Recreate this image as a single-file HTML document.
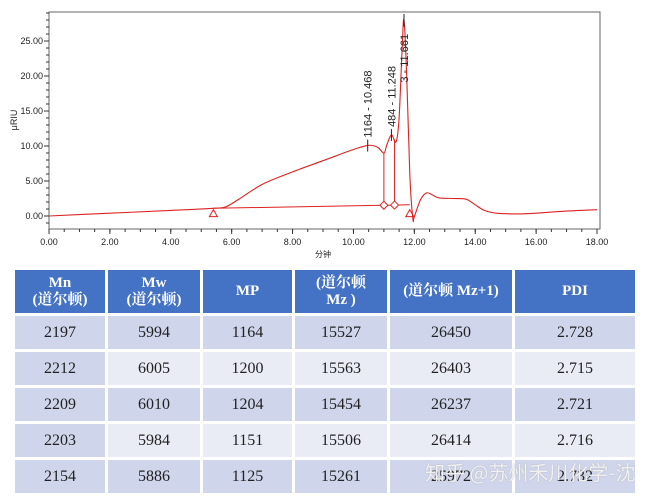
<!DOCTYPE html>
<html><head><meta charset="utf-8"><style>
body{margin:0;background:#fff;width:646px;height:501px;overflow:hidden;font-family:"Liberation Sans",sans-serif}
svg{position:absolute;left:0;top:0}
table{position:absolute;left:12px;top:267px;border-collapse:separate;border-spacing:3px 3px;font-family:"Liberation Serif","Noto Serif CJK SC",serif;table-layout:fixed}
td,th{text-align:center;font-size:16px;color:#222;padding:0}
th{background:#4472c4;color:#fff;font-weight:bold;height:43px;font-size:15px;line-height:17px}
td{height:33px}
tr.o td{background:#cfd5ea}
tr.e td{background:#e9ebf5}
tr.e td:first-child{background:#cfd5ea}
</style></head><body>
<svg id="chart" width="646" height="262"></svg>
<table>
<tr><th style="width:90px">Mn<br>(道尔顿)</th><th style="width:92px">Mw<br>(道尔顿)</th><th style="width:89px">MP</th><th style="width:92px">(道尔顿<br>Mz )</th><th style="width:122px">(道尔顿 Mz+1)</th><th style="width:120px">PDI</th></tr>
<tr class="o"><td>2197</td><td>5994</td><td>1164</td><td>15527</td><td>26450</td><td>2.728</td></tr>
<tr class="e"><td>2212</td><td>6005</td><td>1200</td><td>15563</td><td>26403</td><td>2.715</td></tr>
<tr class="o"><td>2209</td><td>6010</td><td>1204</td><td>15454</td><td>26237</td><td>2.721</td></tr>
<tr class="e"><td>2203</td><td>5984</td><td>1151</td><td>15506</td><td>26414</td><td>2.716</td></tr>
<tr class="o"><td>2154</td><td>5886</td><td>1125</td><td>15261</td><td>25972</td><td>2.732</td></tr>
</table>
<div style="position:absolute;left:425px;top:457px;font:20px 'Noto Sans CJK SC',sans-serif;color:rgba(255,255,255,0.85);text-shadow:0 0 1px #999">知乎 @苏州禾川化学-沈</div>
<script>
const times=[0,2,4,5.4,5.8,6.2,7,8,9,10,10.5,10.8,11.0,11.1,11.25,11.4,11.5,11.6,11.66,11.75,11.85,11.95,12.0,12.2,12.4,12.6,12.8,13.3,13.7,14.0,14.3,14.7,15.5,16,17,18];
const signal=[0,0.4,0.8,1.1,1.3,2.3,4.5,6.3,7.9,9.5,10.1,9.8,9.0,10.2,11.6,10.6,14,24,28,20,6,-0.3,-0.1,2.3,3.3,3.0,2.6,2.5,2.4,1.6,0.8,0.4,0.3,0.4,0.7,0.9];
const xTicks=[0,2,4,6,8,10,12,14,16,18];
const yTicks=[0,5,10,15,20,25];
const peakTimes=[10.468,11.248,11.661];
const peakLabels=["1164 - 10.468","484 - 11.248","3 - 11.661"];
const dropTimes=[11.0,11.35];
const baseStart=[5.4,1.1], baseEnd=[11.85,1.6];
const NS="http://www.w3.org/2000/svg",svg=document.getElementById('chart');
const X=t=>49+t*(597-49)/18, Y=v=>216-v*7;
function mk(tag,a){const e=document.createElementNS(NS,tag);for(const k in a)e.setAttribute(k,a[k]);svg.appendChild(e);return e;}
function interp(t){for(let i=1;i<times.length;i++)if(times[i]>=t){const f=(t-times[i-1])/(times[i]-times[i-1]);return signal[i-1]+f*(signal[i]-signal[i-1]);}return 0;}
let fr=mk('rect',{x:49,y:12,width:551,height:217,fill:'none',stroke:'#666','stroke-width':1});

xTicks.forEach(t=>{mk('line',{x1:X(t),x2:X(t),y1:229,y2:234,stroke:'#333'});
 const l=mk('text',{x:X(t),y:245,'font-size':9,'text-anchor':'middle',fill:'#222'});l.textContent=t.toFixed(2);
 });
for(let t=0;t<=18;t+=0.5)mk('line',{x1:X(t),x2:X(t),y1:229,y2:232,stroke:'#333'});
yTicks.forEach(v=>{mk('line',{x1:44,x2:49,y1:Y(v),y2:Y(v),stroke:'#333'});
 const l=mk('text',{x:43,y:Y(v)+3,'font-size':9,'text-anchor':'end',fill:'#222'});l.textContent=v.toFixed(2);
 });
for(let v=-1;v<=29;v+=1)mk('line',{x1:46,x2:49,y1:Y(v),y2:Y(v),stroke:'#333'});
let yt=mk('text',{x:17,y:120,'font-size':9,'text-anchor':'middle',transform:'rotate(-90 17 120)',fill:'#222'});yt.textContent='μRIU';

let xt=mk('text',{x:323,y:257,'font-size':8,'text-anchor':'middle',fill:'#222','font-family':'Noto Sans CJK SC,sans-serif'});xt.textContent='分钟';

let bl=mk('line',{x1:X(baseStart[0]),y1:Y(baseStart[1]),x2:X(baseEnd[0]),y2:Y(baseEnd[1]),stroke:'#d22','stroke-width':1});

dropTimes.forEach(t=>{const b=baseStart[1]+(t-baseStart[0])/(baseEnd[0]-baseStart[0])*(baseEnd[1]-baseStart[1]);
 const d=mk('line',{x1:X(t),x2:X(t),y1:Y(interp(t)),y2:Y(b),stroke:'#d22'});
 const m=mk('polygon',{points:`${X(t)},${Y(b)-4} ${X(t)+4},${Y(b)} ${X(t)},${Y(b)+4} ${X(t)-4},${Y(b)}`,fill:'#fff',stroke:'#d22'});
 });
[baseStart,baseEnd].forEach(p=>{const x=X(p[0]),y=Y(0.2);const m=mk('polygon',{points:`${x},${y-5} ${x+4},${y+2} ${x-4},${y+2}`,fill:'#fff',stroke:'#d22'});
 });
const P=times.map((t,i)=>[X(t),Y(signal[i])]);
let d='M'+P[0][0]+','+P[0][1];
for(let i=0;i<P.length-1;i++){const p0=P[Math.max(0,i-1)],p1=P[i],p2=P[i+1],p3=P[Math.min(P.length-1,i+2)];
 const c1=[p1[0]+(p2[0]-p0[0])/6,p1[1]+(p2[1]-p0[1])/6],c2=[p2[0]-(p3[0]-p1[0])/6,p2[1]-(p3[1]-p1[1])/6];
 d+=`C${c1[0].toFixed(1)},${c1[1].toFixed(1)} ${c2[0].toFixed(1)},${c2[1].toFixed(1)} ${p2[0].toFixed(1)},${p2[1].toFixed(1)}`;}
let c=mk('path',{d:d,fill:'none',stroke:'#d22','stroke-width':1.1,'stroke-linejoin':'round'});

peakTimes.forEach((t,i)=>{const x=X(t),y=Y(interp(t));
 mk('line',{x1:x,x2:x,y1:(i==2?14:y-6),y2:y+6,stroke:'#222'});
 let ly=i==2?y+62:y-8;
 const l=mk('text',{x:x+4,y:ly,'font-size':11,transform:`rotate(-90 ${x+4} ${ly})`,fill:'#222'});l.textContent=peakLabels[i];
 });
</script>
</body></html>
